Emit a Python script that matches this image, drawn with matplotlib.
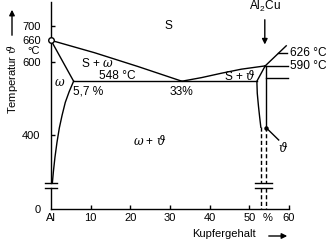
import matplotlib.pyplot as plt

plt.rcParams['font.family'] = ['Liberation Sans', 'DejaVu Sans']
plt.rcParams['font.size'] = 8
plt.rcParams['mathtext.fontset'] = 'custom'
plt.rcParams['mathtext.rm'] = 'Liberation Sans'
plt.rcParams['mathtext.it'] = 'DejaVu Serif:italic'

# Kupfergehalt (%) und Temperatur (°C) der Linien
liq_left_cu = [0, 11, 22, 33]
liq_left_t = [660, 626, 588, 548]
liq_right_cu = [33, 38, 43, 48, 54.0]
liq_right_t = [548, 558, 570, 581, 590]
solidus_cu = [0, 5.7]
solidus_t = [660, 548]
solvus_cu = [5.7, 4.6, 3.6, 2.8, 2.1, 1.5, 1.0, 0.6, 0.35]
solvus_t = [548, 520, 490, 455, 420, 380, 340, 300, 270]
eutectic_cu = [5.7, 51.9]
eutectic_t = 548
theta_left_cu = [54.0, 51.9, 52.0, 52.3, 52.6, 52.9]
theta_left_t = [590, 548, 515, 480, 450, 422]
theta_right_cu = 54.3
theta_right_t = [590, 422]
upper_cu = [54.0, 59.3]
upper_t = [590, 645]
line626_cu = [57.2, 59.4]
line590_cu = [54.0, 59.7]
line556_cu = [54.3, 59.7]
line556_t = 556
break_t = [270, 256]
t_min, t_max = 198, 765

ytick_pos = [t_min, 400, 600, 660, 700]
ytick_lab = ['0', '400', '600', '660', '700']
xtick_pos = [0, 10, 20, 30, 40, 50, 54.6, 60]
xtick_lab = ['Al', '10', '20', '30', '40', '50', '%', '60']

fig = plt.figure(figsize=(3.26, 2.44), dpi=100)
ax = fig.add_axes([51 / 326, 35 / 244, 238 / 326, 207 / 244])
ax.set_xlim(0, 60)
ax.set_ylim(t_min, t_max)

kw = dict(color='black', lw=1.0, clip_on=False)
ax.plot(liq_left_cu, liq_left_t, **kw)
ax.plot(liq_right_cu, liq_right_t, **kw)
ax.plot(solidus_cu, solidus_t, **kw)
ax.plot(solvus_cu, solvus_t, **kw)
ax.plot(eutectic_cu, [eutectic_t] * 2, **kw)
ax.plot(theta_left_cu, theta_left_t, **kw)
ax.plot([theta_right_cu] * 2, theta_right_t, **kw)
ax.plot(upper_cu, upper_t, **kw)
ax.plot(line626_cu, [626] * 2, **kw)
ax.plot(line590_cu, [590] * 2, **kw)
ax.plot(line556_cu, [line556_t] * 2, **kw)

# gestrichelte Fortsetzung der theta-Phase mit Bruch
for xc in (theta_left_cu[-1], theta_right_cu):
    ax.plot([xc, xc], [theta_right_t[-1], break_t[0]], color='black', lw=1.0,
            ls=(0, (3, 1.8)), clip_on=False)
    ax.plot([xc, xc], [break_t[1], t_min], color='black', lw=1.0,
            ls=(0, (3, 1.8)), clip_on=False)
for bt in break_t:
    ax.plot([51.4, 55.6], [bt, bt], **kw)
    ax.plot([-1.5, 1.4], [bt, bt], **kw)

# y-Achse mit Bruch
ax.spines[['top', 'right', 'left']].set_visible(False)
ax.spines['bottom'].set_linewidth(1.0)
ax.plot([0, 0], [t_min, break_t[1]], **kw)
ax.plot([0, 0], [break_t[0], t_max], **kw)

ax.plot(0, 660, 'o', ms=4, mfc='white', mec='black', mew=1.0, clip_on=False, zorder=5)

ax.set_yticks(ytick_pos, ytick_lab)
ax.set_xticks(xtick_pos, xtick_lab)
ax.tick_params(axis='y', direction='in', length=3, width=1, pad=7.5, colors='black')
ax.tick_params(axis='x', direction='in', length=3, width=1, pad=3, colors='black')
for i in (0, 3):
    ax.yaxis.get_major_ticks()[i].tick1line.set_visible(False)
for i in (0, 6):
    ax.xaxis.get_major_ticks()[i].tick1line.set_visible(False)
ax.text(-2.8, 630, '°C', ha='right', va='center')

# Beschriftungen
fs = 8.6
ax.text(29.5, 699, 'S', ha='center', va='center', fontsize=fs)
ax.text(11.6, 597, r'S + $\omega$', ha='center', va='center', fontsize=fs)
ax.text(2.3, 543, r'$\omega$', ha='center', va='center', fontsize=fs)
ax.text(12.1, 562, '548 °C', ha='left', va='center', fontsize=fs)
ax.text(5.6, 521, '5,7 %', ha='left', va='center', fontsize=fs)
ax.text(33, 518, '33%', ha='center', va='center', fontsize=fs)
ax.text(47.7, 562, r'S + $\vartheta$', ha='center', va='center', fontsize=fs)
ax.text(24.9, 384, r'$\omega$ + $\vartheta$', ha='center', va='center', fontsize=fs)
ax.text(60.2, 626, '626 °C', ha='left', va='center', fontsize=fs)
ax.text(60.2, 589, '590 °C', ha='left', va='center', fontsize=fs)
ax.plot(54.2, 421, 'o', ms=2.2, color='black', clip_on=False)
ax.plot([54.2, 57.4], [421, 387], **kw)
ax.text(58.5, 366, r'$\vartheta$', ha='center', va='center', fontsize=fs)
ax.text(53.9, 752, r'Al$_2$Cu', ha='center', va='center', fontsize=fs)
ax.annotate('', xy=(53.9, 641), xytext=(53.9, 724),
            arrowprops=dict(arrowstyle='-|>', color='black', lw=1.0, mutation_scale=8))

# Achsentitel mit Pfeilen
fig.text(12 / 326, 1 - 79 / 244, r'Temperatur $\vartheta$', rotation=90,
         ha='center', va='center')
ax.annotate('', xy=(12 / 326, 1 - 7 / 244), xytext=(12 / 326, 1 - 38 / 244),
            xycoords='figure fraction', textcoords='figure fraction',
            arrowprops=dict(arrowstyle='-|>', color='black', lw=1.0, mutation_scale=8))
fig.text(224 / 326, 1 - 234 / 244, 'Kupfergehalt', ha='center', va='center')
ax.annotate('', xy=(290 / 326, 1 - 236 / 244), xytext=(266 / 326, 1 - 236 / 244),
            xycoords='figure fraction', textcoords='figure fraction',
            arrowprops=dict(arrowstyle='-|>', color='black', lw=1.0, mutation_scale=8))

plt.savefig('out.png', dpi=100)
